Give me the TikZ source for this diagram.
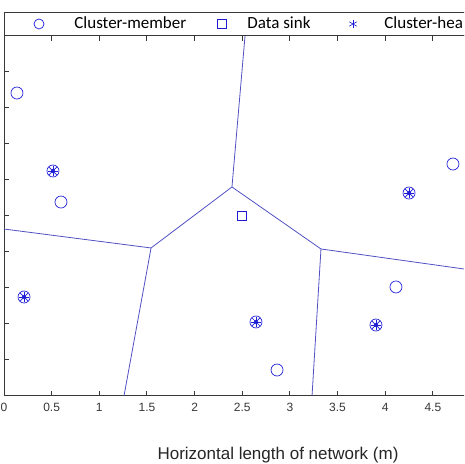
\documentclass[tikz,border=0pt]{standalone}
\usepackage{fontspec}
\setmainfont{Liberation Sans}
\newfontfamily\legendfont{Carlito}
\usetikzlibrary{calc}
\definecolor{cellblue}{RGB}{80,80,195}
\definecolor{markblue}{RGB}{30,30,215}
\definecolor{axisgray}{RGB}{55,55,55}
\newcommand{\mrad}{3pt}
\newcommand{\ticklen}{2.5pt}

\tikzset{
  member/.style={circle,draw=markblue,line width=0.35pt,inner sep=0pt,minimum size=2*\mrad},
  head/.style={member,path picture={
    \foreach \a in {0,45,...,315}
      \draw[markblue,line width=0.35pt] (path picture bounding box.center) -- ++(\a:2.7pt);
    \fill[markblue] (path picture bounding box.center) circle (1pt);}},
  sink/.style={rectangle,draw=markblue,line width=0.5pt,inner sep=0pt,minimum size=4.5pt},
  cell/.style={cellblue,line width=0.4pt},
  axisline/.style={axisgray,line width=0.5pt},
  ticklabel/.style={font=\fontsize{6}{7}\selectfont,text=axisgray,inner sep=0pt},
  legendtext/.style={font=\legendfont\fontsize{8.5}{10}\selectfont,anchor=base west,inner sep=0pt}
}

\begin{document}
\begin{tikzpicture}[x=0.5pt,y=0.5pt]
\useasboundingbox (0,0) rectangle (464,464);
\clip (0,0) rectangle (464,464);

%legend
\draw[axisline] (4,428) rectangle (480,451);
\node[member,minimum size=5pt] (lm) at (39,440) {};
\node[legendtext] (lmt) at (74,435) {Cluster-member};
\node[sink] (ls) at (222,440) {};
\node[legendtext] (lst) at (247,435) {Data sink};
\node[inner sep=0pt] (lh) at (353,440) {};
\foreach \a in {90,30,...,-210}
  \draw[markblue,line width=0.3pt] (lh.center) -- ++(\a:2.2pt);
\node[legendtext] (lht) at (384,435) {Cluster-hea};

%plot
\begin{scope}[shift={(2pt,34pt)},x=47.65pt,y=36pt]
\draw[axisline] (5.3,5) -- (0,5) -- (0,0) -- (5.3,0);
\foreach \t in {0.5,1,...,4.5}
  \draw[axisline] (\t,0) -- ++(0,\ticklen) (\t,5) -- ++(0,-\ticklen);
\foreach \t in {0.5,1,...,4.5}
  \draw[axisline] (0,\t) -- ++(\ticklen,0);
\foreach \t/\lab in {0/0,0.5/0.5,1/1,1.5/1.5,2/2,2.5/2.5,3/3,3.5/3.5,4/4,4.5/4.5}
  \node[ticklabel] (x\lab) at (\t,-0.153) {\lab};

%voronoi cells
\coordinate (vA) at (2.392,2.903);
\coordinate (vB) at (1.543,2.056);
\coordinate (vC) at (3.326,2.042);
\coordinate (eTop) at (2.529,5);
\coordinate (eLeft) at (0,2.319);
\coordinate (eBotL) at (1.259,0);
\coordinate (eBotR) at (3.232,0);
\coordinate (eRight) at (4.827,1.764);
\draw[cell] (eTop) -- (vA) -- (vB) -- (eLeft);
\draw[cell] (vA) -- (vC) -- (eRight);
\draw[cell] (vB) -- (eBotL);
\draw[cell] (vC) -- (eBotR);

%nodes
\node[sink] (sink) at (2.5,2.5) {};
\node[member] (m1) at (0.136,4.208) {};
\node[member] (m2) at (0.598,2.694) {};
\node[member] (m3) at (2.865,0.361) {};
\node[member] (m4) at (4.113,1.514) {};
\node[member] (m5) at (4.711,3.222) {};
\node[head] (h1) at (0.514,3.125) {};
\node[head] (h2) at (0.210,1.375) {};
\node[head] (h3) at (2.644,1.028) {};
\node[head] (h4) at (3.903,0.986) {};
\node[head] (h5) at (4.250,2.819) {};
\end{scope}

\node[font=\fontsize{8.5}{10}\selectfont,text=black!85,inner sep=0pt] (xlabel) at (278,9) {Horizontal length of network (m)};
\end{tikzpicture}
\end{document}
